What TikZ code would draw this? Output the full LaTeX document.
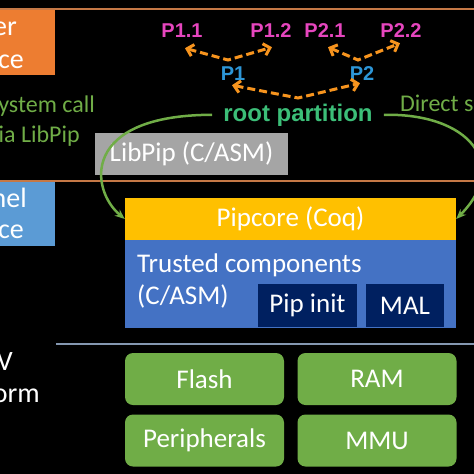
\documentclass[tikz,border=0pt]{standalone}
\usepackage{fontspec}
\setmainfont{Carlito}
\newfontfamily\arialfont{Liberation Sans}
\usetikzlibrary{positioning}
\usetikzlibrary{arrows.meta}

\definecolor{userorange}{RGB}{237,125,49}
\definecolor{kernelblue}{RGB}{91,155,213}
\definecolor{pipyellow}{RGB}{255,192,0}
\definecolor{trustblue}{RGB}{68,114,196}
\definecolor{darkbox}{RGB}{0,32,96}
\definecolor{hwgreen}{RGB}{112,173,71}
\definecolor{libgray}{RGB}{165,165,165}
\definecolor{sepline}{RGB}{197,120,70}
\definecolor{hwline}{RGB}{132,151,176}
\definecolor{pmagenta}{RGB}{230,70,190}
\definecolor{pblue}{RGB}{45,150,215}
\definecolor{rootgreen}{RGB}{60,190,120}
\definecolor{dashorange}{RGB}{247,148,30}

\newcommand{\fsz}[1]{\fontsize{#1}{#1}\selectfont}

\begin{document}
\begin{tikzpicture}[x=1pt, y=-1pt, >={Stealth[length=10pt,width=8pt]}]
  % definition of the basic styles.
  \tikzset{
    layerbox/.style={inner sep=0pt, text=white, font=\fsz{27}},
    hwbox/.style={layerbox, fill=hwgreen, rounded corners=8pt, minimum width=159pt},
    sidelabel/.style={inner sep=0pt, text=white, font=\fsz{28}},
    calltext/.style={inner sep=0pt, text=hwgreen, font=\fsz{24}},
    plabel/.style={inner sep=0pt, font=\arialfont\bfseries\fsz{20}},
    dashlink/.style={<->, >={Straight Barb[length=6pt,width=12pt]}, draw=dashorange,
      line width=3pt, dash pattern=on 8pt off 4pt},
    calllink/.style={->, draw=hwgreen, line width=2.5pt}
  }
  % The black background
  \fill[black] (0,0) rectangle (474,474);
  \useasboundingbox (0,0) rectangle (474,474);
  \clip (0,0) rectangle (474,474);

  % The layer separators
  \draw[sepline, line width=2pt] (0,8.5) -- (474,8.5);
  \draw[sepline, line width=2pt] (0,181) -- (474,181);
  \draw[hwline, line width=1.5pt] (56,344) -- (474,344);

  % Layer labels on the left
  \node[fill=userorange, inner sep=0, minimum width=55pt, minimum height=65pt] (user) at (27.5,42.5) {};
  \node[sidelabel, anchor=base east] (user1) at (17,35) {er};
  \node[sidelabel, anchor=base east] (user2) at (24,68) {ce};
  \node[fill=kernelblue, inner sep=0, minimum width=55pt, minimum height=64pt] (kernel) at (27.5,214) {};
  \node[sidelabel, anchor=base east] (kernel1) at (27,207) {nel};
  \node[sidelabel, anchor=base east] (kernel2) at (24,238) {ce};
  \node[sidelabel, anchor=base east] (hw1) at (13,370) {V};
  \node[sidelabel, anchor=base east] (hw2) at (40,402) {orm};

  % System call texts
  \node[calltext, anchor=base east] (sys1) at (95,112) {ystem call};
  \node[calltext, anchor=base east] (sys2) at (80,142) {ia LibPip};
  \node[calltext, anchor=base west] (direct) at (400,111) {Direct s};

  % Partitions
  \node[plabel, text=pmagenta, anchor=base] (p11) at (182,37) {P1.1};
  \node[plabel, text=pmagenta, anchor=base] (p12) at (271,37) {P1.2};
  \node[plabel, text=pmagenta, anchor=base] (p21) at (325,37) {P2.1};
  \node[plabel, text=pmagenta, anchor=base] (p22) at (401,37) {P2.2};
  \node[plabel, text=pblue, anchor=base] (p1) at (233,80) {P1};
  \node[plabel, text=pblue, anchor=base] (p2) at (362,80) {P2};
  \node[plabel, text=rootgreen, font=\arialfont\bfseries\fsz{24}, inner xsep=11pt, anchor=base] (root) at (298,121) {root partition};
  \coordinate (v1) at (228,60);
  \coordinate (v2) at (358,60);
  \coordinate (v0) at (298,98);
  \draw[dashlink] ([shift={(3,11)}]p11.south) -- (v1) -- ([shift={(1,10)}]p12.south);
  \draw[dashlink] ([shift={(3,10)}]p21.south) -- (v2) -- ([shift={(-1,6)}]p22.south);
  \draw[dashlink] ([shift={(-1,5)}]p1.south) -- (v0) -- ([shift={(-2,3)}]p2.south);

  % LibPip and the kernel
  \node[layerbox, fill=libgray, minimum width=193pt, minimum height=42pt] (libpip) at (191.5,154) {LibPip (C/ASM)};
  \node[layerbox, fill=pipyellow, minimum width=331pt, minimum height=42pt] (pip) at (290.5,219) {Pipcore (Coq)};
  \node[layerbox, fill=trustblue, minimum width=331pt, minimum height=88pt] (tc) at (290.5,284) {};
  \node[layerbox, align=left, font=\fontsize{27}{32}\selectfont, anchor=base west] (tctext) at (137,304) {Trusted components\\(C/ASM)};
  \node[layerbox, fill=darkbox, minimum width=99pt, minimum height=43pt] (pipinit) at (307.5,305.5) {Pip init};
  \node[layerbox, fill=darkbox, minimum width=78pt, minimum height=43pt] (mal) at (405,305.5) {MAL};

  % Hardware blocks
  \foreach \n/\x/\y/\t in {flash/204.5/379/Flash, ram/377/379/RAM, periph/204.5/440.5/Peripherals, mmu/377/440.5/MMU}
    \node[hwbox, minimum height=52pt] (\n) at (\x,\y) {\t};

  % The system calls
  \draw[calllink] (root.west) .. controls (80,115) and (90,190) .. (pip.west);
  \draw[calllink] (root.east) .. controls (470,113) and (510,165) .. (pip.east);
\end{tikzpicture}
\end{document}
